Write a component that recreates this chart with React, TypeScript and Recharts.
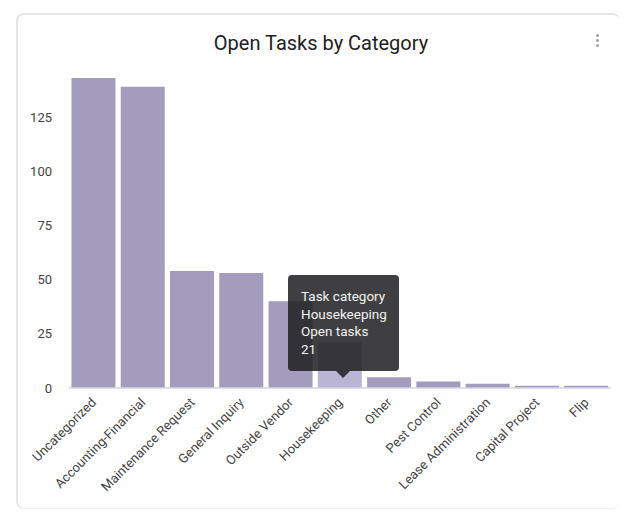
import React from 'react';
import { BarChart, Bar, XAxis, YAxis, Tooltip, Cell } from 'recharts';

const categories = [
  'Uncategorized',
  'Accounting-Financial',
  'Maintenance Request',
  'General Inquiry',
  'Outside Vendor',
  'Housekeeping',
  'Other',
  'Pest Control',
  'Lease Administration',
  'Capital Project',
  'Flip',
];
const openTasks = [143, 139, 54, 53, 40, 21, 5, 3, 2, 1, 1];
const yTicks = [0, 25, 50, 75, 100, 125];
const highlighted = 'Housekeeping';
const title = 'Open Tasks by Category';
const xLabel = 'Task category';
const yLabel = 'Open tasks';

const data = categories.map((c, i) => ({ category: c, tasks: openTasks[i] }));
const highlightIndex = categories.indexOf(highlighted);

const FONT = 'Roboto, "Noto Sans", sans-serif';

const XTick = (props: any) => {
  const { x, y, payload } = props;
  return (
    <g transform={`translate(${x},${y})`}>
      <text
        textAnchor="end"
        transform="rotate(-45)"
        dy="0.35em"
        fontSize={13}
        fill="#444"
        fontFamily={FONT}
      >
        {payload.value}
      </text>
    </g>
  );
};

const TipContent = (props: any) => {
  const { payload, label } = props;
  if (!payload || !payload.length) return null;
  const v = payload[0].value;
  return (
    <div style={{ position: 'relative', width: 111, height: 96 }}>
      <div
        style={{
          width: 111,
          height: 96,
          boxSizing: 'border-box',
          background: 'rgba(32,32,34,0.86)',
          borderRadius: 4,
          padding: '13px 0 0 13px',
          color: '#f2f2f2',
          fontFamily: FONT,
          fontSize: 13.5,
          lineHeight: '17.7px',
          whiteSpace: 'nowrap',
        }}
      >
        <div>{xLabel}</div>
        <div>{label}</div>
        <div>{yLabel}</div>
        <div>{v}</div>
      </div>
      <div
        style={{
          position: 'absolute',
          left: 48,
          top: 96,
          width: 0,
          height: 0,
          borderLeft: '7px solid transparent',
          borderRight: '7px solid transparent',
          borderTop: '7px solid rgba(32,32,34,0.86)',
        }}
      />
    </div>
  );
};

export default function App() {
  return (
    <div
      style={{
        position: 'absolute',
        left: 0,
        top: 0,
        width: 637,
        height: 519,
        background: '#fff',
        overflow: 'hidden',
      }}
    >
      <div
        style={{
          position: 'absolute',
          left: 16,
          top: 13,
          width: 604,
          height: 496,
          borderRadius: 8,
          borderTop: '2px solid #e6e6e6',
          borderLeft: '2px solid #e6e6e6',
          borderBottom: '1px solid #f0f0f0',
          boxSizing: 'border-box',
        }}
      />
      <div
        style={{
          position: 'absolute',
          left: 121,
          top: 30,
          width: 400,
          textAlign: 'center',
          fontFamily: FONT,
          fontSize: 20,
          lineHeight: '26px',
          color: '#202124',
        }}
      >
        {title}
      </div>
      {[35, 40, 45].map((cy) => (
        <div
          key={cy}
          style={{
            position: 'absolute',
            left: 595.5,
            top: cy - 1.5,
            width: 3,
            height: 3,
            borderRadius: 2,
            background: '#a0a0a0',
          }}
        />
      ))}
      <div style={{ position: 'absolute', left: 0, top: 0 }}>
        <BarChart
          width={637}
          height={519}
          data={data}
          margin={{ top: 78, right: 26, bottom: 31, left: 9 }}
          barCategoryGap="5%"
        >
          <XAxis
            dataKey="category"
            interval={0}
            height={100}
            tickLine={false}
            tickSize={0}
            tickMargin={12}
            axisLine={{ stroke: '#d6d4e4', strokeWidth: 1.5 }}
            tick={<XTick />}
          />
          <YAxis
            width={60}
            domain={[0, 143]}
            ticks={yTicks}
            axisLine={false}
            tickLine={false}
            tickSize={0}
            tickMargin={17}
            tick={{ fontSize: 13, fill: '#444', fontFamily: FONT }}
          />
          <Tooltip
            active
            defaultIndex={highlightIndex}
            position={{ x: 288, y: 275 }}
            cursor={false}
            isAnimationActive={false}
            content={<TipContent />}
            wrapperStyle={{ transition: 'none', outline: 'none' }}
            allowEscapeViewBox={{ x: true, y: true }}
          />
          <Bar dataKey="tasks" isAnimationActive={false} activeBar={false}>
            {data.map((d, i) => (
              <Cell key={d.category} fill={i === highlightIndex ? '#bbb5d5' : '#a39cbc'} />
            ))}
          </Bar>
        </BarChart>
      </div>
    </div>
  );
}
